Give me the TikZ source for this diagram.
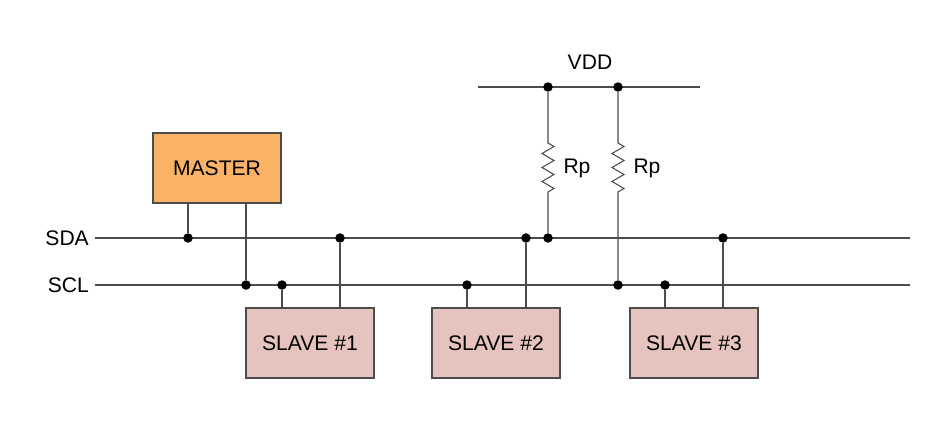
\documentclass[tikz,border=0pt]{standalone}
\usepackage{fontspec}
\setmainfont{Liberation Sans}
\usetikzlibrary{positioning}
\definecolor{mastercol}{HTML}{FAB266}
\definecolor{slavecol}{HTML}{E6C3BE}
\tikzset{
  wire/.style={draw=black!70,line width=0.6pt},
  dot/.style={circle,fill=black,inner sep=0pt,minimum size=0.19cm},
  box/.style={draw=black!70,line width=0.6pt,minimum width=2.56cm,minimum height=1.4cm,font=\fontsize{12}{14}\selectfont},
  lbl/.style={font=\fontsize{12}{14}\selectfont}
}
\begin{document}
\begin{tikzpicture}[x=0.02cm,y=-0.02cm]
\useasboundingbox (0,0) rectangle (931,436);
% bus lines
\coordinate (sdaL) at (95,238);  \coordinate (sdaR) at (910,238);
\coordinate (sclL) at (95,285);  \coordinate (sclR) at (910,285);
\coordinate (vddL) at (478,87);  \coordinate (vddR) at (700,87);
\node[lbl,left] (sda) at (sdaL) {SDA};
\node[lbl,left] (scl) at (sclL) {SCL};
\node[lbl] (vdd) at (590,62) {VDD};
\draw[wire] (sda.east) -- (sdaR);
\draw[wire] (scl.east) -- (sclR);
\draw[wire] (vddL) -- (vddR);
% boxes
\node[box,fill=mastercol] (master) at (217,168) {MASTER};
\node[box,fill=slavecol] (slave1) at (310,343) {SLAVE \#1};
\node[box,fill=slavecol] (slave2) at (496,343) {SLAVE \#2};
\node[box,fill=slavecol] (slave3) at (694,343) {SLAVE \#3};
% taps
\node[dot] (m1) at (188,238) {};
\node[dot] (m2) at (246,285) {};
\draw[wire] (m1) -- (m1 |- master.south);
\draw[wire] (m2) -- (m2 |- master.south);
\foreach \s/\xc/\xd in {slave1/282/340, slave2/467/526, slave3/665/723}{
  \node[dot] (\s c) at (\xc,285) {};
  \node[dot] (\s d) at (\xd,238) {};
  \draw[wire] (\s c) -- (\s c |- \s.north);
  \draw[wire] (\s d) -- (\s d |- \s.north);
}
% pull-ups
\node[dot] (v1) at (548,87) {};
\node[dot] (v2) at (618,87) {};
\node[dot] (r1b) at (548,238) {};
\node[dot] (r2b) at (618,285) {};
\foreach \v/\b in {v1/r1b, v2/r2b}{
  \draw[wire] (\v) -- ++(0,56) -- ++(6,3.5) -- ++(-12,7) -- ++(12,7) -- ++(-12,7)
    -- ++(12,7) -- ++(-12,7) -- ++(12,7) -- ++(-6,3.5) -- (\b);
}
\node[lbl] (rp1) at (577,168) {Rp};
\node[lbl] (rp2) at (647,168) {Rp};
\end{tikzpicture}
\end{document}
